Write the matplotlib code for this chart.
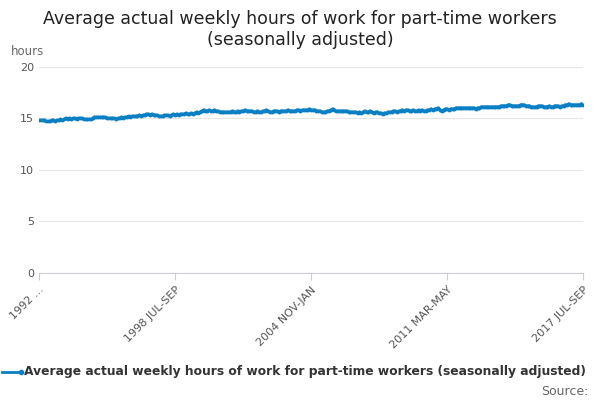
import matplotlib
matplotlib.use("Agg")
import matplotlib.pyplot as plt
import numpy as np

values = [
14.8,14.8,14.8,14.8,14.7,14.7,14.7,14.8,14.8,14.7,
14.8,14.8,14.9,14.8,14.9,15.0,14.9,15.0,14.9,15.0,
15.0,14.9,15.0,15.0,15.0,14.9,14.9,14.9,14.9,14.9,
15.0,15.1,15.1,15.1,15.1,15.1,15.1,15.1,15.0,15.0,
15.0,15.0,15.0,14.9,15.0,15.0,15.1,15.0,15.1,15.1,
15.2,15.1,15.2,15.2,15.2,15.2,15.3,15.2,15.3,15.3,
15.4,15.4,15.3,15.4,15.3,15.3,15.3,15.2,15.2,15.2,
15.3,15.3,15.3,15.2,15.3,15.4,15.3,15.4,15.3,15.4,
15.4,15.4,15.5,15.4,15.4,15.5,15.4,15.5,15.6,15.5,
15.6,15.7,15.8,15.7,15.7,15.8,15.7,15.7,15.8,15.7,
15.7,15.6,15.6,15.6,15.6,15.6,15.6,15.6,15.7,15.6,
15.6,15.7,15.6,15.7,15.7,15.8,15.7,15.7,15.7,15.7,
15.6,15.6,15.7,15.6,15.6,15.7,15.7,15.8,15.7,15.6,
15.6,15.7,15.7,15.7,15.6,15.7,15.7,15.7,15.7,15.8,
15.7,15.7,15.7,15.7,15.8,15.8,15.7,15.8,15.8,15.8,
15.8,15.9,15.8,15.8,15.8,15.7,15.7,15.7,15.6,15.6,
15.6,15.7,15.7,15.8,15.9,15.8,15.7,15.7,15.7,15.7,
15.7,15.7,15.7,15.6,15.6,15.6,15.6,15.6,15.5,15.6,
15.5,15.6,15.7,15.6,15.6,15.7,15.6,15.5,15.6,15.6,
15.5,15.5,15.4,15.5,15.5,15.6,15.6,15.6,15.7,15.7,
15.6,15.7,15.7,15.8,15.7,15.8,15.8,15.7,15.7,15.8,
15.7,15.7,15.8,15.7,15.8,15.7,15.7,15.8,15.8,15.9,
15.8,15.9,15.9,16.0,15.8,15.7,15.8,15.9,15.9,15.8,
15.9,15.9,15.9,16.0,16.0,16.0,16.0,16.0,16.0,16.0,
16.0,16.0,16.0,16.0,15.9,16.0,16.0,16.1,16.1,16.1,
16.1,16.1,16.1,16.1,16.1,16.1,16.1,16.1,16.2,16.2,
16.2,16.2,16.3,16.3,16.2,16.2,16.2,16.2,16.2,16.3,
16.3,16.3,16.2,16.2,16.2,16.1,16.1,16.1,16.1,16.2,
16.2,16.2,16.1,16.1,16.1,16.2,16.1,16.1,16.2,16.2,
16.2,16.1,16.2,16.2,16.3,16.3,16.4,16.3,16.3,16.3,
16.3,16.3,16.3,16.4,16.3,
]
tick_idx = [0, 76, 152, 228, 304]
tick_labels = ["1992 ...", "1998 JUL-SEP", "2004 NOV-JAN", "2011 MAR-MAY", "2017 JUL-SEP"]
yticks = [0, 5, 10, 15, 20]
series_name = "Average actual weekly hours of work for part-time workers (seasonally adjusted)"

fig = plt.figure(figsize=(6, 4), dpi=100)
ax = fig.add_axes([0.065, 0.318, 0.907, 0.515])
x = np.arange(len(values))
ax.plot(x, values, color="#0a7fc4", lw=2.2, marker="o", ms=1.8)
ax.set_xlim(0, len(values) - 1)
ax.set_ylim(0, 20)
ax.set_yticks(yticks)
ax.tick_params(axis="y", length=0, labelsize=8, colors="#555555")
ax.set_xticks(tick_idx)
ax.set_xticklabels(tick_labels, rotation=45, ha="right", rotation_mode="anchor", fontsize=8, color="#555555")
ax.tick_params(axis="x", length=5, color="#ccccd6")
ax.grid(axis="y", color="#e6e6e6", lw=0.8)
for s in ["top", "right", "left"]:
    ax.spines[s].set_visible(False)
ax.spines["bottom"].set_color("#ccccd6")
ax.set_axisbelow(True)

fig.text(0.5, 0.975, "Average actual weekly hours of work for part-time workers\n(seasonally adjusted)",
         ha="center", va="top", fontsize=12.5, color="#222222")
fig.text(0.018, 0.862, "hours", fontsize=8.5, color="#666666")
fig.lines.append(matplotlib.lines.Line2D([0.003, 0.035], [0.07, 0.07], color="#0a7fc4", lw=2,
                                         marker="o", ms=3, markevery=[1], transform=fig.transFigure))
fig.text(0.04, 0.07, series_name, fontsize=8.8, fontweight="bold", color="#333333", va="center")
fig.text(0.98, 0.022, "Source:", fontsize=9, color="#666666", ha="right", va="center")
fig.savefig("out.png", dpi=100)
